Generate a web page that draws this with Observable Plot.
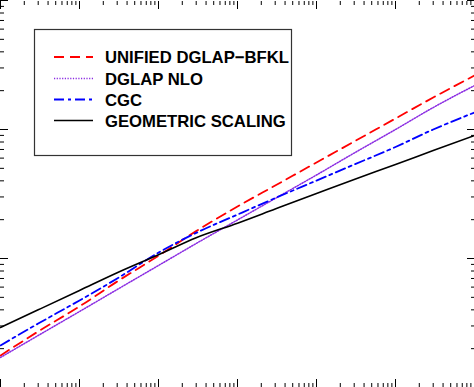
<!DOCTYPE html>
<html>
<head>
<meta charset="utf-8">
<script src="https://cdn.jsdelivr.net/npm/d3@7"></script>
<script src="https://cdn.jsdelivr.net/npm/@observablehq/plot@0.6"></script>
<style>
  html, body { margin: 0; padding: 0; background: #fff; }
  #chart { position: relative; width: 474px; height: 387px; overflow: hidden; }
</style>
</head>
<body>
<div id="chart"></div>
<script>
// x positions (log scale) shared by all curves
const xValues = [1, 3, 10, 30, 100, 300, 1000, 3000, 1e4, 3e4, 1e5, 3e5, 1e6];
const unified = [1.77, 2.72, 4.25, 6.63, 10.5, 16.3, 25.3, 36.8, 55.5, 80.7, 121.7, 177, 262];
const dglapNLO = [1.71, 2.53, 3.88, 5.75, 8.83, 13.07, 19.9, 29.2, 44.4, 65.7, 100, 148, 219];
const cgc = [2.12, 3.13, 4.73, 7.0, 11.1, 15.8, 21.9, 29.4, 40.2, 53.5, 73.2, 100, 135.5];
const geometric = [2.92, 4.0, 5.65, 7.75, 10.7, 14.5, 18.8, 24.2, 31.9, 41.0, 53.5, 68.7, 89.8];

const seriesNames = ["UNIFIED DGLAP\u2212BFKL", "DGLAP NLO", "CGC", "GEOMETRIC SCALING"];
const seriesValues = [unified, dglapNLO, cgc, geometric];
const seriesColors = ["#ff0000", "#8a2be2", "#0000ff", "#000000"];
const seriesDash = ["10,6", "1.2,1.5", "10,4,3,4", null];
const seriesWidth = [1.8, 1.5, 1.8, 1.6];

const xDomain = [1, 1e6];
const yDomain = [1, 1000];

// tick values (log decades with minors 2..9)
function logTicks(lo, hi) {
  const majors = [], minors = [];
  for (let e = Math.log10(lo); e <= Math.log10(hi); e++) {
    majors.push(Math.pow(10, e));
    if (e < Math.log10(hi)) for (let m = 2; m <= 9; m++) minors.push(m * Math.pow(10, e));
  }
  return {majors, minors};
}
const xt = logTicks(xDomain[0], xDomain[1]);
const yt = logTicks(yDomain[0], yDomain[1]);

const rows = [];
seriesNames.forEach((name, i) => {
  xValues.forEach((x, j) => rows.push({series: name, idx: i, x, y: seriesValues[i][j]}));
});

const blank = () => "";
const marks = [];
seriesNames.forEach((name, i) => {
  marks.push(Plot.line(rows.filter(d => d.idx === i), {
    x: "x", y: "y", stroke: seriesColors[i], strokeWidth: seriesWidth[i],
    strokeDasharray: seriesDash[i] || undefined, curve: "monotone-x"
  }));
});
for (const anchor of ["bottom", "top"]) {
  marks.push(Plot.axisX({anchor, ticks: xt.majors, tickSize: -8, tickFormat: blank, label: null, strokeWidth: 1}));
  marks.push(Plot.axisX({anchor, ticks: xt.minors, tickSize: -4, tickFormat: blank, label: null, strokeWidth: 1}));
}
for (const anchor of ["left", "right"]) {
  marks.push(Plot.axisY({anchor, ticks: yt.majors, tickSize: -8, tickFormat: blank, label: null, strokeWidth: 1}));
  marks.push(Plot.axisY({anchor, ticks: yt.minors, tickSize: -4, tickFormat: blank, label: null, strokeWidth: 1}));
}

const plot = Plot.plot({
  width: 474,
  height: 387,
  margin: 0,
  x: {type: "log", domain: xDomain, axis: null},
  y: {type: "log", domain: yDomain, axis: null},
  style: {background: "#fff", overflow: "visible"},
  marks
});
document.getElementById("chart").appendChild(plot);

// legend box inside the plot
const svg = d3.select(plot);
const lg = svg.append("g").attr("class", "legend").attr("text-anchor", "start");
lg.append("rect").attr("x", 34.5).attr("y", 29.5).attr("width", 257).attr("height", 126)
  .attr("fill", "#fff").attr("stroke", "#333").attr("stroke-width", 1.2);
const rowY = [57, 78.5, 99.5, 120.5];
seriesNames.forEach((name, i) => {
  lg.append("line").attr("x1", 54).attr("x2", 93).attr("y1", rowY[i]).attr("y2", rowY[i])
    .attr("stroke", seriesColors[i]).attr("stroke-width", seriesWidth[i])
    .attr("stroke-dasharray", seriesDash[i]);
  lg.append("text").attr("x", 105).attr("y", rowY[i] + 6)
    .attr("text-anchor", "start")
    .attr("font-family", "'Liberation Sans', Arial, Helvetica, sans-serif")
    .attr("font-weight", "bold").attr("font-size", 16.7).attr("fill", "#000")
    .text(name);
});
</script>
</body>
</html>
